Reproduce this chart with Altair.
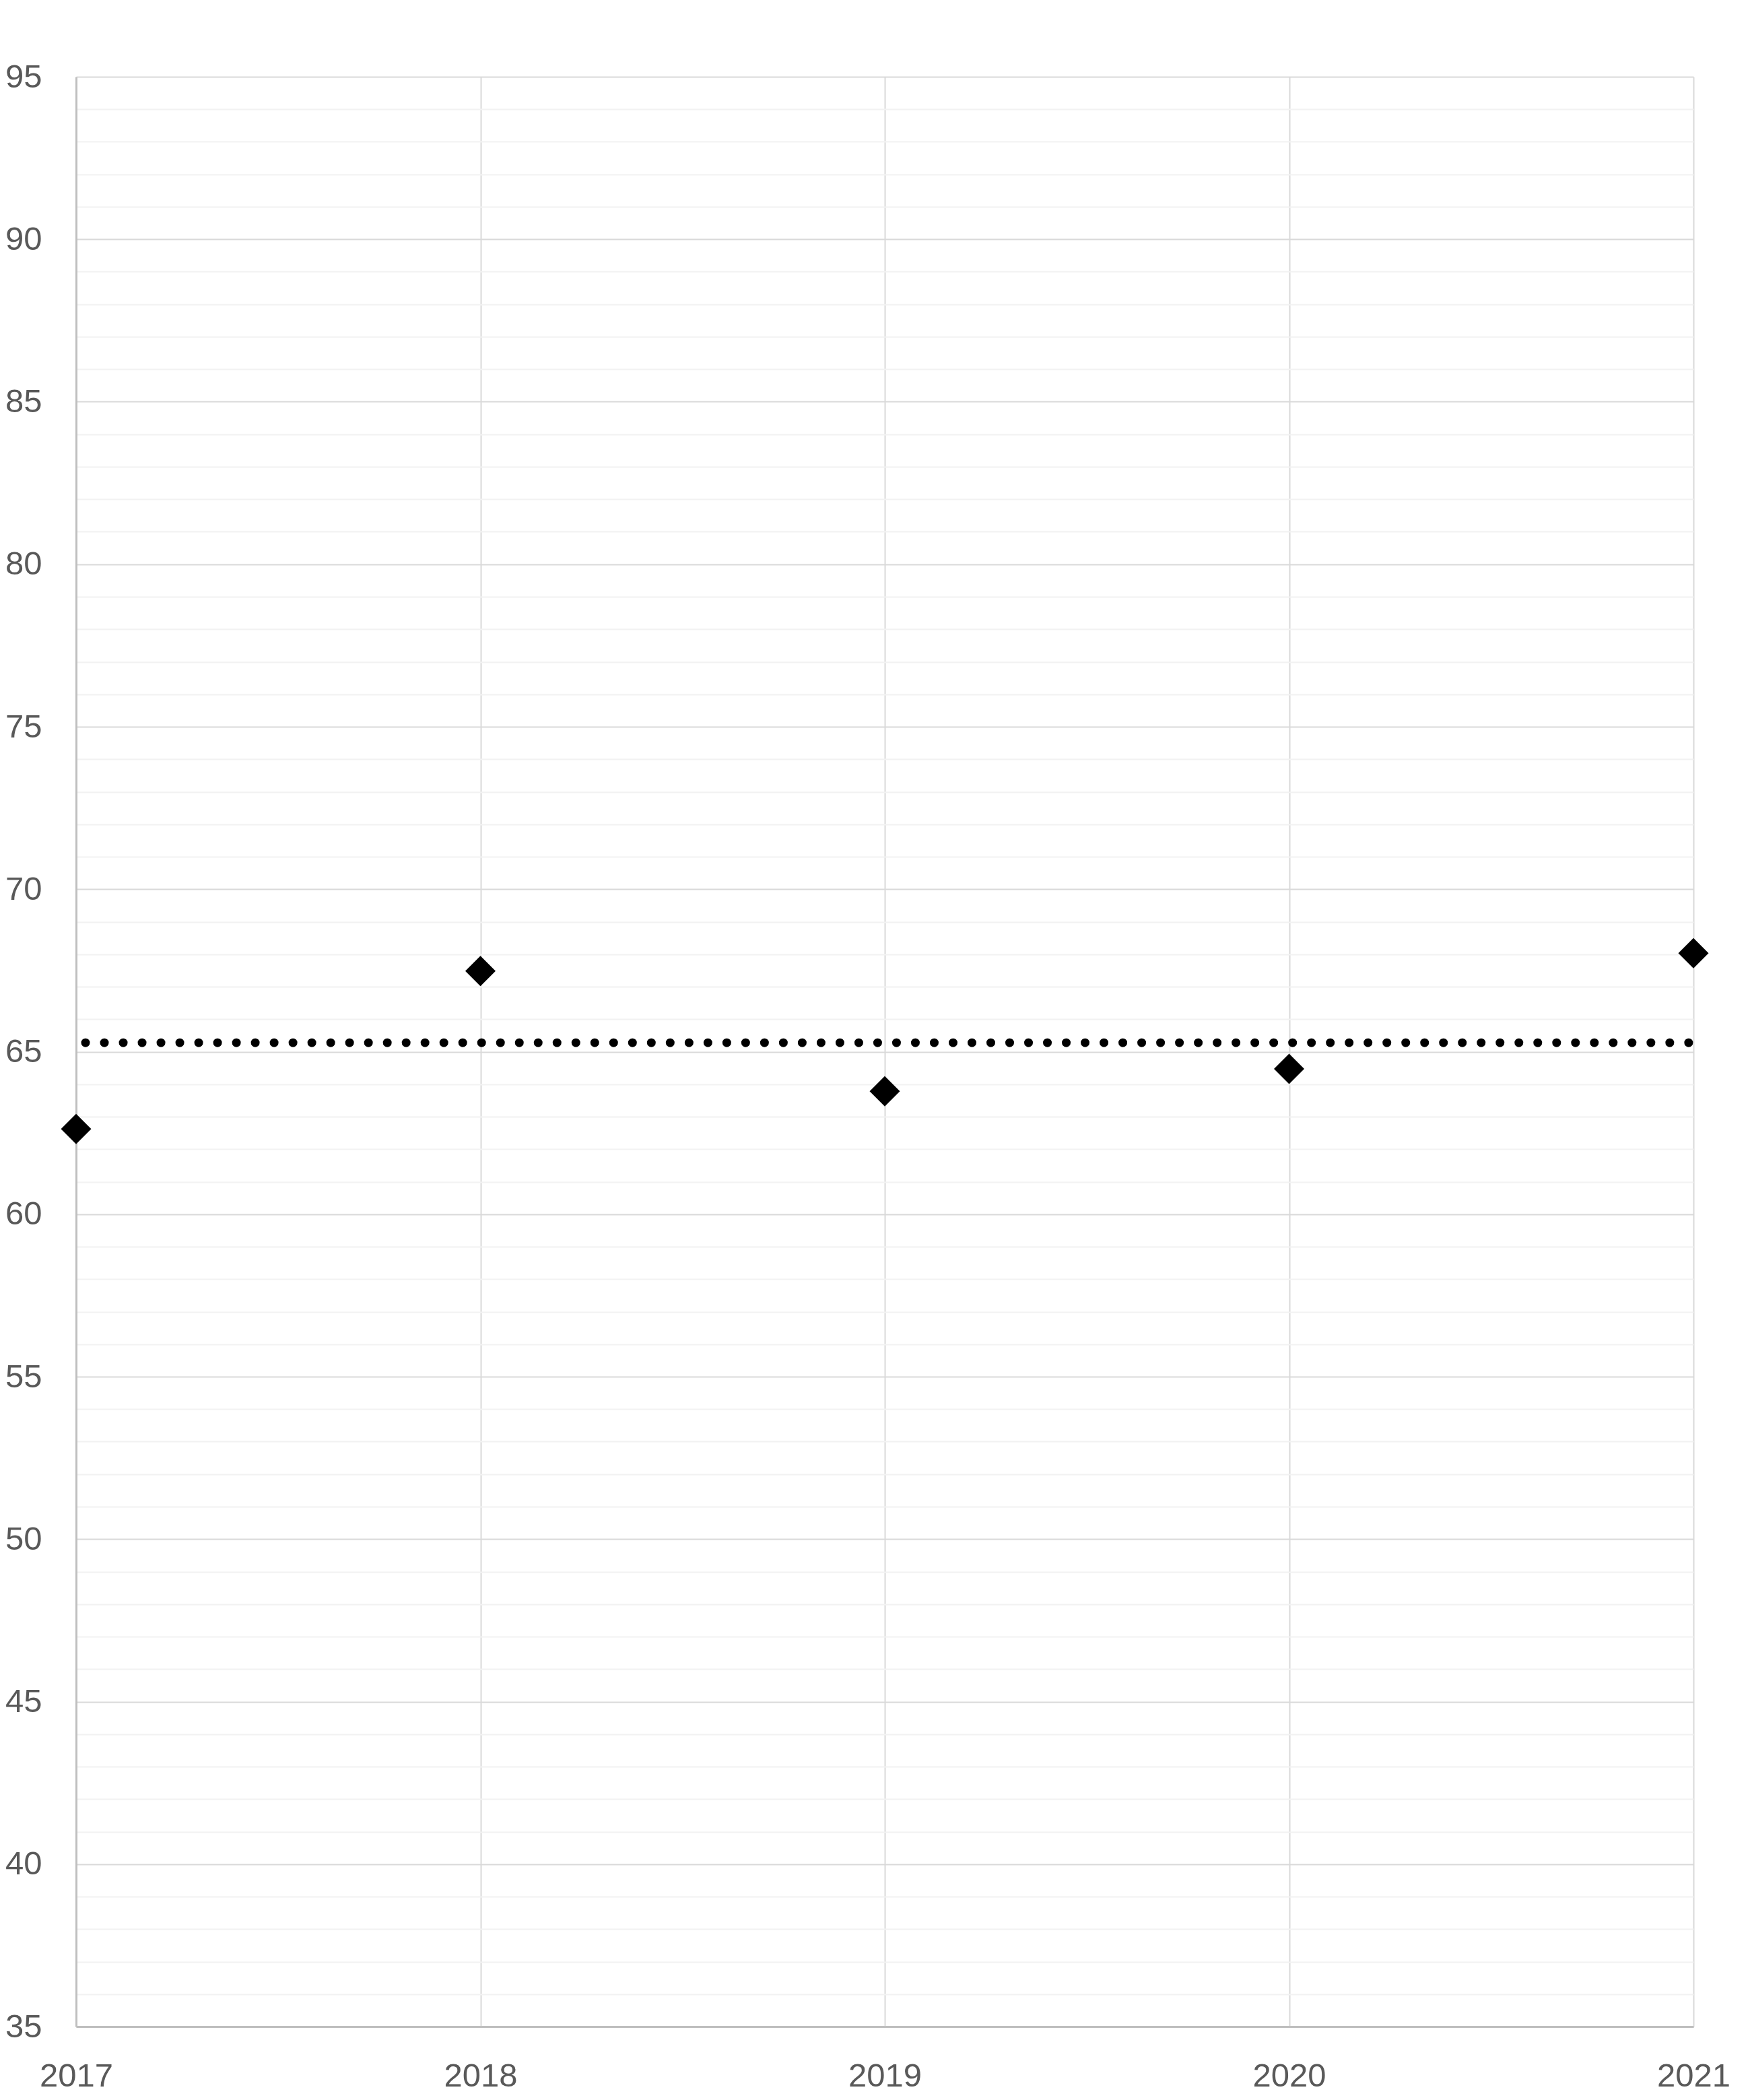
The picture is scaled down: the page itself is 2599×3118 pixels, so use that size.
import altair as alt
import pandas as pd

# values
years = [2017, 2018, 2019, 2020, 2021]
scores = [62.62, 67.48, 63.78, 64.47, 68.03]

y_ticks = list(range(35, 96))  # minor grid every 1, labels every 5

df = pd.DataFrame({"year": years, "score": scores})

FONT = "Liberation Sans"
LABEL_COLOR = "#595959"

x_scale = alt.Scale(domain=[years[0], years[-1]], nice=False, zero=False)
y_scale = alt.Scale(domain=[35, 95], nice=False, zero=False)

x_axis = alt.Axis(
    values=years,
    format="d",
    title=None,
    grid=True,
    gridColor="#d9d9d9",
    gridWidth=2,
    domainColor="#bfbfbf",
    domainWidth=3,
    ticks=False,
    tickSize=0,
    labelPadding=49,
    labelFont=FONT,
    labelFontSize=49,
    labelColor=LABEL_COLOR,
    labelOverlap=False,
    labelFlush=False,
)

y_axis = alt.Axis(
    values=y_ticks,
    title=None,
    grid=True,
    gridColor={
        "condition": {"test": "datum.value % 5 === 0", "value": "#d9d9d9"},
        "value": "#f2f2f2",
    },
    gridWidth=2,
    domainColor="#bfbfbf",
    domainWidth=3,
    ticks=False,
    tickSize=0,
    labelExpr="datum.value % 5 === 0 ? datum.label : ''",
    labelPadding=51,
    labelFont=FONT,
    labelFontSize=49,
    labelColor=LABEL_COLOR,
    labelOverlap=False,
    labelFlush=False,
)

# dotted average line
avg_line = (
    alt.Chart(df)
    .transform_joinaggregate(avg="mean(score)")
    .mark_line(
        color="black",
        strokeWidth=13,
        strokeCap="round",
        strokeDash=[0.01, 28],
        strokeDashOffset=14,
    )
    .encode(
        x=alt.X("year:Q", scale=x_scale, axis=x_axis),
        y=alt.Y("avg:Q", scale=y_scale, axis=y_axis),
    )
)

points = (
    alt.Chart(df)
    .mark_point(shape="diamond", filled=True, size=2025, color="black", opacity=1)
    .encode(
        x=alt.X("year:Q", scale=x_scale, axis=x_axis),
        y=alt.Y("score:Q", scale=y_scale, axis=y_axis),
    )
)

chart = (
    alt.layer(avg_line, points)
    .properties(
        width=2402,
        height=2895,
        autosize=alt.AutoSizeParams(type="none"),
        padding={"left": 105, "top": 106, "right": 70, "bottom": 100},
        background="white",
    )
    .configure_view(stroke=None)
)

chart.save("out.html", embed_options={"renderer": "svg", "actions": False})
